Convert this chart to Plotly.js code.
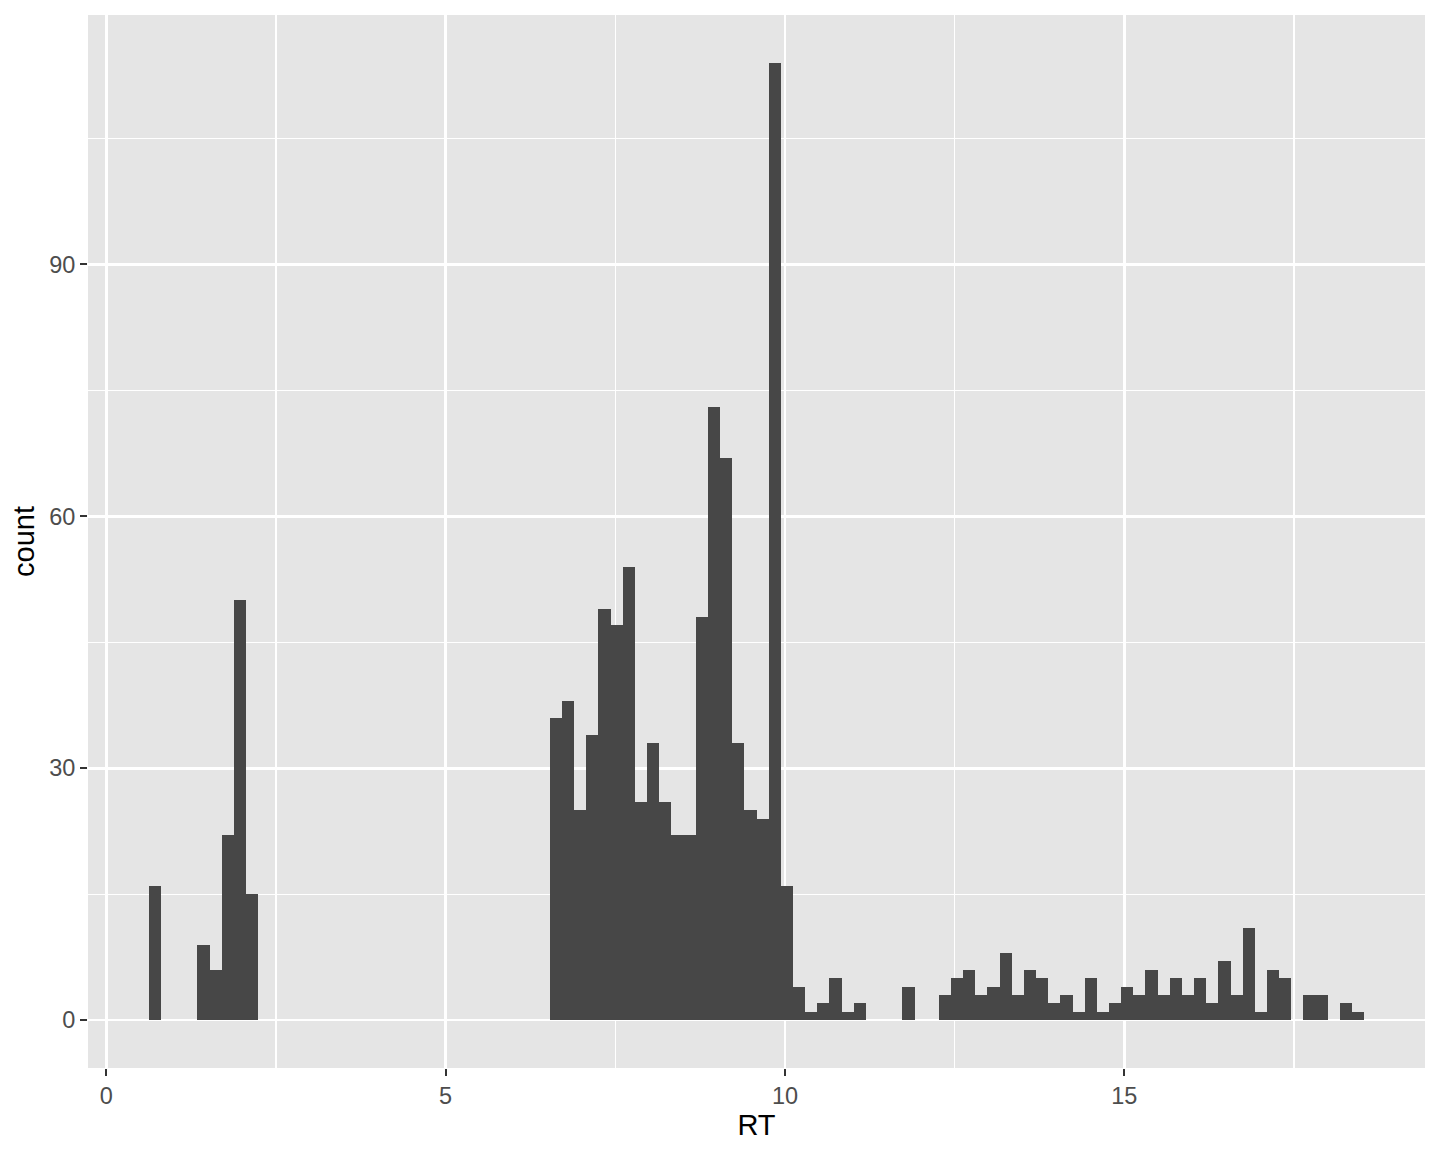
<!DOCTYPE html>
<html>
<head>
<meta charset="utf-8">
<script src="https://cdn.plot.ly/plotly-3.0.1.min.js"></script>
<style>body{margin:0;padding:0;background:#fff;}#chart{width:1440px;height:1152px;}</style>
</head>
<body>
<div id="chart"></div>
<script>
// Histogram bins (100 bins)
const binStart = 0.7155;   // centre of first bin
const binWidth = 0.1791;   // bin width
const counts = [
  16, 0, 0, 0, 9, 6, 22, 50, 15,
  0, 0, 0, 0, 0, 0, 0, 0, 0, 0, 0, 0, 0, 0, 0, 0, 0, 0, 0, 0, 0, 0, 0, 0,
  36, 38, 25, 34, 49, 47, 54, 26, 33, 26, 22, 22, 48, 73, 67, 33, 25, 24, 114, 16,
  4, 1, 2, 5, 1, 2, 0, 0, 0, 4,
  0, 0, 3, 5, 6, 3, 4, 8, 3, 6, 5, 2, 3, 1,
  5, 1, 2, 4, 3, 6, 3, 5, 3, 5, 2, 7, 3, 11, 1, 6, 5, 0, 3, 3, 0, 2, 1
];
const xTickVals = [0, 5, 10, 15];
const yTickVals = [0, 30, 60, 90];
const xMinorVals = [2.5, 7.5, 12.5, 17.5];
const yMinorVals = [15, 45, 75, 105];
const xTitle = "RT";
const yTitle = "count";

const font = "Liberation Sans, Arial, Helvetica, sans-serif";
const dataMin = binStart - binWidth / 2;
const dataMax = dataMin + binWidth * counts.length;
const xpad = (dataMax - dataMin) * 0.05;
const ymax = Math.max(...counts);
const ypad = ymax * 0.05;

const trace = {
  type: "bar",
  x0: binStart,
  dx: binWidth,
  y: counts,
  width: binWidth,
  marker: {color: "#474747", line: {width: 0}},
  hoverinfo: "x+y"
};

const layout = {
  width: 1440, height: 1152,
  margin: {l: 88, r: 15, t: 15, b: 84},
  paper_bgcolor: "#ffffff",
  plot_bgcolor: "#E5E5E5",
  bargap: 0,
  showlegend: false,
  font: {family: font},
  xaxis: {
    range: [dataMin - xpad, dataMax + xpad],
    tickmode: "array", tickvals: xTickVals, ticktext: xTickVals.map(String),
    ticks: "outside", ticklen: 7, tickwidth: 2, tickcolor: "#333333",
    tickfont: {size: 23.5, color: "#4D4D4D", family: font},
    showgrid: true, gridcolor: "#ffffff", gridwidth: 2.7,
    minor: {tickmode: "array", tickvals: xMinorVals, showgrid: true, gridcolor: "#ffffff", gridwidth: 1.35, ticks: ""},
    zeroline: false, showline: false,
    title: {text: xTitle, font: {size: 29, color: "#000000", family: font}, standoff: 6}
  },
  yaxis: {
    range: [-ypad, ymax + ypad],
    tickmode: "array", tickvals: yTickVals, ticktext: yTickVals.map(String),
    ticks: "outside", ticklen: 7, tickwidth: 2, tickcolor: "#333333",
    tickfont: {size: 23.5, color: "#4D4D4D", family: font},
    showgrid: true, gridcolor: "#ffffff", gridwidth: 2.7,
    minor: {tickmode: "array", tickvals: yMinorVals, showgrid: true, gridcolor: "#ffffff", gridwidth: 1.35, ticks: ""},
    zeroline: false, showline: false,
    title: {text: yTitle, font: {size: 29, color: "#000000", family: font}, standoff: 6}
  }
};

Plotly.newPlot("chart", [trace], layout, {displayModeBar: false, staticPlot: true});
</script>
</body>
</html>
